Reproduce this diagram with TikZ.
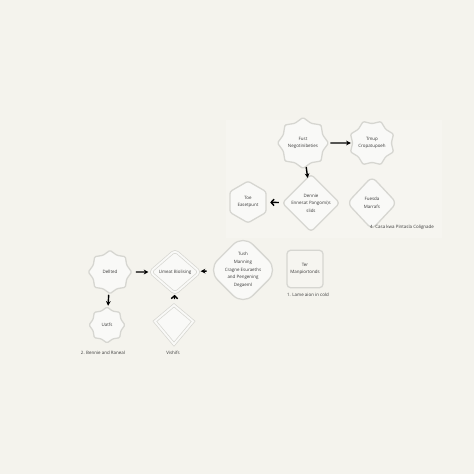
\documentclass[tikz,border=0pt]{standalone}
\usepackage{fontspec}
\setmainfont{Open Sans}
\usetikzlibrary{shapes.geometric,arrows.meta}
\definecolor{paper}{HTML}{F4F3ED}
\definecolor{panel}{HTML}{F6F5F0}
\definecolor{shapefill}{HTML}{F9F9F7}
\definecolor{shapeline}{HTML}{D6D6D1}
\definecolor{ink}{HTML}{3A3A3A}
\tikzset{
	box/.style={draw=shapeline,fill=shapefill,line width=1.1pt,text=ink,align=center,inner sep=0pt,
		font=\fontsize{3.8}{6.5}\selectfont},
	starbox/.style={box,star,star points=8,star point ratio=1.2,rounded corners=1pt},
	hexbox/.style={box,regular polygon,regular polygon sides=6,rounded corners=2pt},
	diabox/.style={box,diamond,rounded corners=3pt},
	twoline/.style={double=shapefill,double distance=1.6pt,line width=0.6pt},
	note/.style={text=ink,font=\fontsize{3.8}{5}\selectfont,inner sep=0pt},
	arr/.style={line width=1.2pt,-{Stealth[length=4pt,width=4pt]}},
	barb/.style={line width=1.2pt,-{Straight Barb[length=2.5pt,width=5.5pt]}}
}
\begin{document}
\begin{tikzpicture}[x=0.03cm,y=-0.03cm]
	\useasboundingbox[fill=paper] (0,0) rectangle (474,474);
	\fill[panel] (226,120) rectangle (442,238);

	\node[starbox,minimum size=1.25cm] (fust) at (303,143) {Fust\\Negotinibeties};
	\node[starbox,minimum size=1.27cm,shape border rotate=22.5] (tmup) at (372,143) {Tmup\\Cropatupoeh};
	\node[hexbox,minimum size=1.25cm,shape border rotate=90] (toe) at (248,202) {Toe\\Easetpunt};
	\node[diabox,minimum width=1.72cm,minimum height=1.55cm] (dennie) at (311,203) {Dennie\\Ennesat Pangomi)s\\slids};
	\node[diabox,rounded corners=5pt,minimum width=1.5cm,minimum height=1.6cm] (fuesda) at (372,203) {Fuesda\\Marrafs};
	\node[note] (casa) at (402,227) {4. Casa kwa Pintasla Colignade};

	\node[starbox,minimum size=1.3cm] (dellted) at (110,272) {Dellted};
	\node[starbox,minimum size=1.08cm] (uatfs) at (107,325) {Uatfs};
	\node[note] (bennie) at (103,353) {2. Bennie and Raneal};
	\node[diabox,twoline,minimum width=1.5cm,minimum height=1.3cm] (umeat) at (175,272) {Umeat Biolising};
	\node[box,twoline,kite,kite upper vertex angle=100,kite lower vertex angle=80,inner sep=0.29cm] (vistol) at (174,323) {};
	\node[note] (vishifs) at (173,353) {Vishifs};
	\node[diabox,rounded corners=12pt,minimum width=1.58cm,minimum height=1.68cm] (tush) at (243,270) {Tush\\Manning\\Cragne Esuraeths\\and Pengening\\Degaeml};
	\node[box,rounded corners=3pt,minimum width=1.08cm,minimum height=1.12cm,fill=panel] (ter) at (305,269) {Ter\\Manpiortonds};
	\node[note] (lame) at (308,295) {1. Lame aion in cold};

	\draw[arr,shorten <=1pt,shorten >=1pt] (fust) -- (tmup);
	\draw[arr,shorten <=0pt,shorten >=-1pt] (fust) -- (dennie);
	\draw[barb,shorten <=2.5pt,shorten >=3pt] (dennie) -- (toe);
	\draw[arr,shorten <=3pt,shorten >=1pt] (dellted) -- (umeat);
	\draw[arr,shorten <=1pt,shorten >=1pt] (tush) -- (umeat);
	\draw[arr,shorten <=1pt,shorten >=1pt] (dellted) -- (uatfs);
	\draw[barb,shorten <=5pt,shorten >=1pt] (vistol) -- (umeat);
\end{tikzpicture}
\end{document}
